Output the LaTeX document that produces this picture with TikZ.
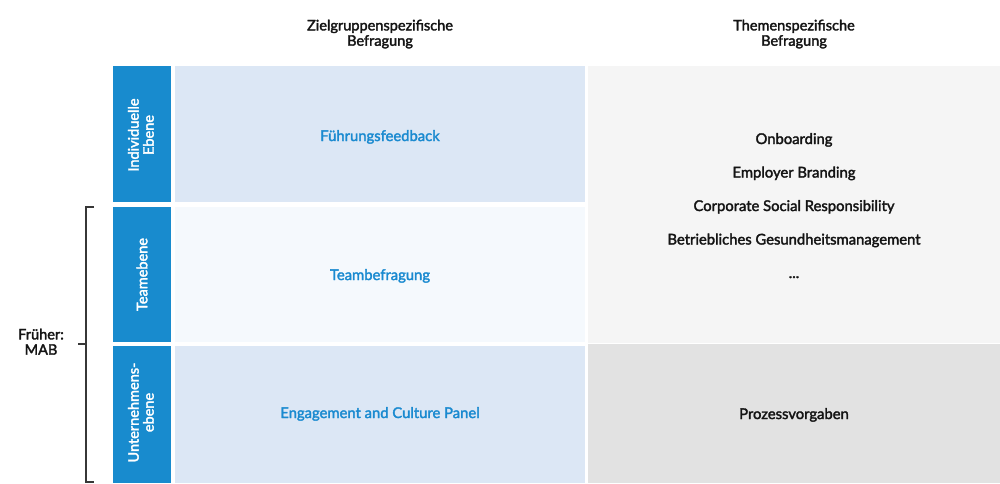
\documentclass[tikz,border=0pt]{standalone}
\definecolor{levelblue}{RGB}{24, 139, 206}
\definecolor{textblue}{RGB}{26, 138, 208}
\definecolor{paleblue}{RGB}{220, 231, 245}
\definecolor{paleblue2}{RGB}{245, 249, 253}
\definecolor{greyA}{RGB}{245, 245, 245}
\definecolor{greyB}{RGB}{226, 226, 226}
\definecolor{inkblack}{RGB}{20, 20, 20}
\usepackage{fontspec}
\setmainfont{Lato}
\newfontfamily\medfont{Lato}[FakeBold=2.2]
\usepackage{tikz}
\usetikzlibrary{positioning, calc}

\newdimen\pxu
\pxu=0.75pt
\newcommand\twolines[2]{\begin{tabular}{@{}c@{}}#1\\#2\end{tabular}}

\tikzset{
  cell/.style={inner sep=0pt, outer sep=0pt},
  levelcell/.style={cell, fill=levelblue, minimum width=58\pxu, minimum height=136\pxu},
  levellabel/.style={rotate=90, text=white, inner sep=0pt, font=\medfont\fontsize{10.9}{10.8}\selectfont},
  surveycell/.style={cell, minimum width=410\pxu, minimum height=136\pxu},
  surveylabel/.style={anchor=base, text=textblue, font=\medfont\fontsize{11.1}{12}\selectfont},
  topiclabel/.style={anchor=base, text=inkblack, font=\medfont\fontsize{11.1}{12}\selectfont},
  headlabel/.style={text=inkblack, inner sep=0pt, font=\medfont\fontsize{10.9}{11.5}\selectfont}
}

\begin{document}
\begin{tikzpicture}[x=0.75pt, y=-0.75pt]
  \useasboundingbox (0,0) rectangle (1000,483);

  % Headers
  \node[headlabel] (headgroup) at (380, 35) {\twolines{Zielgruppenspezifische}{Befragung}};
  \node[headlabel] (headtopic) at (794, 35) {\twolines{Themenspezifische}{Befragung}};

  % Levels
  \node[levelcell] (lev1) at (142, 134) {};
  \node[levelcell, minimum height=135\pxu] (lev2) at (142, 274.5) {};
  \node[levelcell, minimum height=137\pxu] (lev3) at (142, 414.5) {};
  \node[levellabel] at (143, 135) {\twolines{Individuelle}{Ebene}};
  \node[levellabel] at (lev2) {Teamebene};
  \node[levellabel] at (143, 412.5) {\twolines{Unternehmens-}{ebene}};

  % Target group surveys
  \node[surveycell, fill=paleblue] (grp1) at (380, 134) {};
  \node[surveycell, fill=paleblue2, minimum height=135\pxu] (grp2) at (380, 274.5) {};
  \node[surveycell, fill=paleblue, minimum height=137\pxu] (grp3) at (380, 414.5) {};
  \node[surveylabel] at (380, 141) {Führungsfeedback};
  \node[surveylabel] at (380, 280) {Teambefragung};
  \node[surveylabel] at (380, 418) {Engagement and Culture Panel};

  % Topic surveys
  \node[cell, fill=greyA, minimum width=412\pxu, minimum height=277\pxu] (top1) at (794, 204.5) {};
  \node[cell, fill=greyB, minimum width=412\pxu, minimum height=139\pxu] (top2) at (794, 413.5) {};
  \node[topiclabel] (t1) at (794, 144) {Onboarding};
  \node[topiclabel] (t2) at (794, 177.5) {Employer Branding};
  \node[topiclabel] (t3) at (794, 211) {Corporate Social Responsibility};
  \node[topiclabel] (t4) at (794, 244.5) {Betriebliches Gesundheitsmanagement};
  \node[topiclabel] (t5) at (794, 278) {...};
  \node[topiclabel] (t6) at (794, 419) {Prozessvorgaben};

  % Bracket
  \node[headlabel] (mab) at (41, 344) {\twolines{Früher:}{MAB}};
  \coordinate (brtop) at (94, 207);
  \coordinate (brbot) at (94, 482);
  \coordinate (brmid) at (78, 344);
  \draw[line width=1.1pt, draw=inkblack!85] (brtop) -| (86, 482) -- (brbot);
  \draw[line width=1.1pt, draw=inkblack!85] (brmid) -- (86, 344);
\end{tikzpicture}
\end{document}
